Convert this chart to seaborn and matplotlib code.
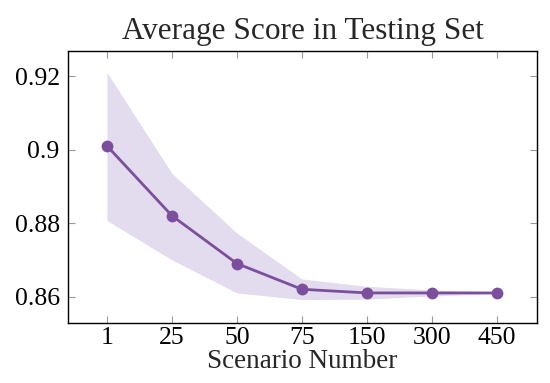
import numpy as np
import pandas as pd
import matplotlib
matplotlib.use("Agg")
import matplotlib.pyplot as plt
import seaborn as sns

# Data
scenarios = ["1", "25", "50", "75", "150", "300", "450"]
avg_score = [0.901, 0.882, 0.869, 0.862, 0.861, 0.861, 0.861]
upper_band = [0.921, 0.8935, 0.8773, 0.8648, 0.8628, 0.8618, 0.8612]
lower_band = [0.8807, 0.870, 0.861, 0.8592, 0.8593, 0.8602, 0.8608]

line_color = "#7b4f9d"
fill_color = "#e3dbee"

sns.set_theme(style="ticks")
plt.rcParams["font.family"] = ["Liberation Serif", "DejaVu Serif"]

df = pd.DataFrame({
    "pos": np.arange(len(scenarios)),
    "score": avg_score,
    "upper": upper_band,
    "lower": lower_band,
})

fig = plt.figure(figsize=(5.5, 3.83), dpi=100)
ax = fig.add_axes([0.1236, 0.1574, 0.8528, 0.7094])

# Shaded spread
ax.fill_between(df["pos"], df["lower"], df["upper"], color=fill_color,
                linewidth=0, zorder=1)

# Mean line
sns.lineplot(data=df, x="pos", y="score", ax=ax, color=line_color,
             marker="o", markersize=8.5, markeredgewidth=0, linewidth=2.0,
             zorder=3)

ax.set_xlim(-0.6, 6.62)
ax.set_ylim(0.8529, 0.9268)
ax.set_xticks(df["pos"])
ax.set_xticklabels(scenarios)
ax.set_yticks([0.86, 0.88, 0.90, 0.92])
ax.set_yticklabels(["0.86", "0.88", "0.9", "0.92"])

ax.tick_params(direction="in", length=5, width=0.8, colors="#999999",
               top=True, right=True, labelsize=18.5, labelcolor="black")
ax.tick_params(axis="x", pad=3)
ax.tick_params(axis="y", pad=6)

for spine in ax.spines.values():
    spine.set_visible(True)
    spine.set_color("black")
    spine.set_linewidth(1.0)

ax.set_title("Average Score in Testing Set", fontsize=22.5, pad=9)
ax.set_xlabel("Scenario Number", fontsize=19.5, labelpad=0)
ax.set_ylabel("")

fig.savefig("out.png", dpi=100)
